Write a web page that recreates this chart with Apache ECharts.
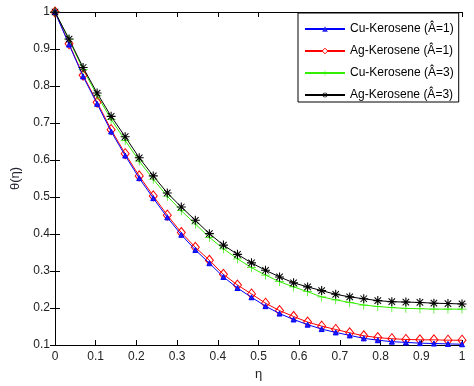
<!DOCTYPE html>
<html>
<head>
<meta charset="utf-8">
<script src="https://cdn.jsdelivr.net/npm/echarts@6/dist/echarts.min.js"></script>
<style>html,body{margin:0;padding:0;background:#fff;}#c{width:474px;height:386px;}</style>
</head>
<body>
<div id="c"></div>
<script>
const eta = [0, 0.0345, 0.069, 0.1034, 0.1379, 0.1724, 0.2069, 0.2414, 0.2759, 0.3103, 0.3448, 0.3793, 0.4138, 0.4483, 0.4828, 0.5172, 0.5517, 0.5862, 0.6207, 0.6552, 0.6897, 0.7241, 0.7586, 0.7931, 0.8276, 0.8621, 0.8966, 0.931, 0.9655, 1];
const cuA1 = [1, 0.912, 0.826, 0.752, 0.677, 0.612, 0.551, 0.497, 0.445, 0.398, 0.357, 0.321, 0.284, 0.254, 0.229, 0.205, 0.185, 0.169, 0.155, 0.143, 0.134, 0.126, 0.118, 0.113, 0.109, 0.107, 0.105, 0.104, 0.103, 0.102];
const agA1 = [1, 0.914, 0.829, 0.756, 0.682, 0.617, 0.557, 0.503, 0.451, 0.404, 0.364, 0.329, 0.291, 0.262, 0.238, 0.213, 0.193, 0.177, 0.162, 0.151, 0.142, 0.133, 0.125, 0.120, 0.117, 0.115, 0.114, 0.114, 0.113, 0.113];
const cuA3 = [1, 0.925, 0.845, 0.775, 0.710, 0.653, 0.597, 0.548, 0.502, 0.463, 0.427, 0.391, 0.360, 0.333, 0.309, 0.289, 0.271, 0.257, 0.244, 0.230, 0.222, 0.215, 0.208, 0.204, 0.201, 0.199, 0.198, 0.197, 0.197, 0.197];
const agA3 = [1, 0.927, 0.850, 0.781, 0.718, 0.663, 0.606, 0.557, 0.511, 0.473, 0.437, 0.401, 0.370, 0.345, 0.322, 0.302, 0.284, 0.268, 0.257, 0.247, 0.237, 0.230, 0.225, 0.220, 0.217, 0.216, 0.215, 0.213, 0.212, 0.211];
const names = ['Cu-Kerosene (Â=1)', 'Ag-Kerosene (Â=1)', 'Cu-Kerosene (Â=3)', 'Ag-Kerosene (Â=3)'];

const pair = arr => eta.map((x, i) => [x, arr[i]]);
const plusPath = 'path://M4.6,0 L5.4,0 L5.4,10 L4.6,10 Z M0,4.6 L10,4.6 L10,5.4 L0,5.4 Z';
const starPath = 'path://M4.4,0 L5.6,0 L5.6,10 L4.4,10 Z M0,4.4 L10,4.4 L10,5.6 L0,5.6 Z M1,1.8 L1.8,1 L9,8.2 L8.2,9 Z M8.2,1 L9,1.8 L1.8,9 L1,8.2 Z';

const fmt = v => String(+(+v).toFixed(1));
const tickStyle = {show: true, inside: true, length: 5, lineStyle: {color: '#000', width: 1}};
const lineStyleAxis = {show: true, lineStyle: {color: '#000', width: 1}};

const chart = echarts.init(document.getElementById('c'), null, {renderer: 'canvas'});
chart.setOption({
  animation: false,
  backgroundColor: '#fff',
  grid: {left: 55, right: 12, top: 12, bottom: 37, containLabel: false},
  xAxis: [
    {type: 'value', min: 0, max: 1, interval: 0.1, position: 'bottom',
     axisLine: lineStyleAxis, axisTick: tickStyle, splitLine: {show: false},
     axisLabel: {formatter: fmt, color: '#222', fontSize: 12, fontFamily: 'Liberation Sans, Arial', margin: 6},
     name: 'η', nameLocation: 'middle', nameGap: 23,
     nameTextStyle: {color: '#222', fontSize: 13, fontFamily: 'Liberation Sans, Arial'}},
    {type: 'value', min: 0, max: 1, interval: 0.1, position: 'top',
     axisLine: lineStyleAxis, axisTick: tickStyle, splitLine: {show: false}, axisLabel: {show: false}}
  ],
  yAxis: [
    {type: 'value', min: 0.1, max: 1, interval: 0.1, position: 'left',
     axisLine: lineStyleAxis, axisTick: tickStyle, splitLine: {show: false},
     axisLabel: {formatter: fmt, color: '#222', fontSize: 12, fontFamily: 'Liberation Sans, Arial', margin: 5},
     name: 'θ(η)', nameLocation: 'middle', nameGap: 24, nameRotate: 90,
     nameTextStyle: {color: '#223', fontSize: 13, fontFamily: 'Liberation Sans, Arial'}},
    {type: 'value', min: 0.1, max: 1, interval: 0.1, position: 'right',
     axisLine: lineStyleAxis, axisTick: tickStyle, splitLine: {show: false}, axisLabel: {show: false}}
  ],
  legend: {
    orient: 'vertical', left: 298, top: 13,
    data: [
      {name: names[0]},
      {name: names[1], itemStyle: {color: '#fff', borderColor: '#ff0000', borderWidth: 1}},
      {name: names[2]},
      {name: names[3]}
    ],
    itemWidth: 40, itemHeight: 7, itemGap: 10,
    padding: [10, 5, 1, 6],
    borderColor: '#000', borderWidth: 1, backgroundColor: '#fff',
    textStyle: {color: '#000', fontSize: 12, fontFamily: 'Liberation Sans, Arial', width: 108}
  },
  series: [
    {name: names[0], type: 'line', data: pair(cuA1), symbol: 'triangle', symbolSize: 5,
     lineStyle: {color: '#0000ff', width: 1}, itemStyle: {color: '#2020ee', borderColor: '#0000ff'}, z: 3},
    {name: names[1], type: 'line', data: pair(agA1), symbol: 'diamond', symbolSize: [8, 10],
     lineStyle: {color: '#ff0000', width: 1}, itemStyle: {color: 'rgba(255,255,255,0)', borderColor: '#ff0000', borderWidth: 1}, z: 2},
    {name: names[2], type: 'line', data: pair(cuA3), symbol: plusPath, symbolSize: 9,
     lineStyle: {color: '#33ee00', width: 1}, itemStyle: {color: '#33ee00'}, z: 2},
    {name: names[3], type: 'line', data: pair(agA3), symbol: starPath, symbolSize: 9,
     lineStyle: {color: '#000', width: 1}, itemStyle: {color: '#000'}, z: 4}
  ]
});
</script>
</body>
</html>
